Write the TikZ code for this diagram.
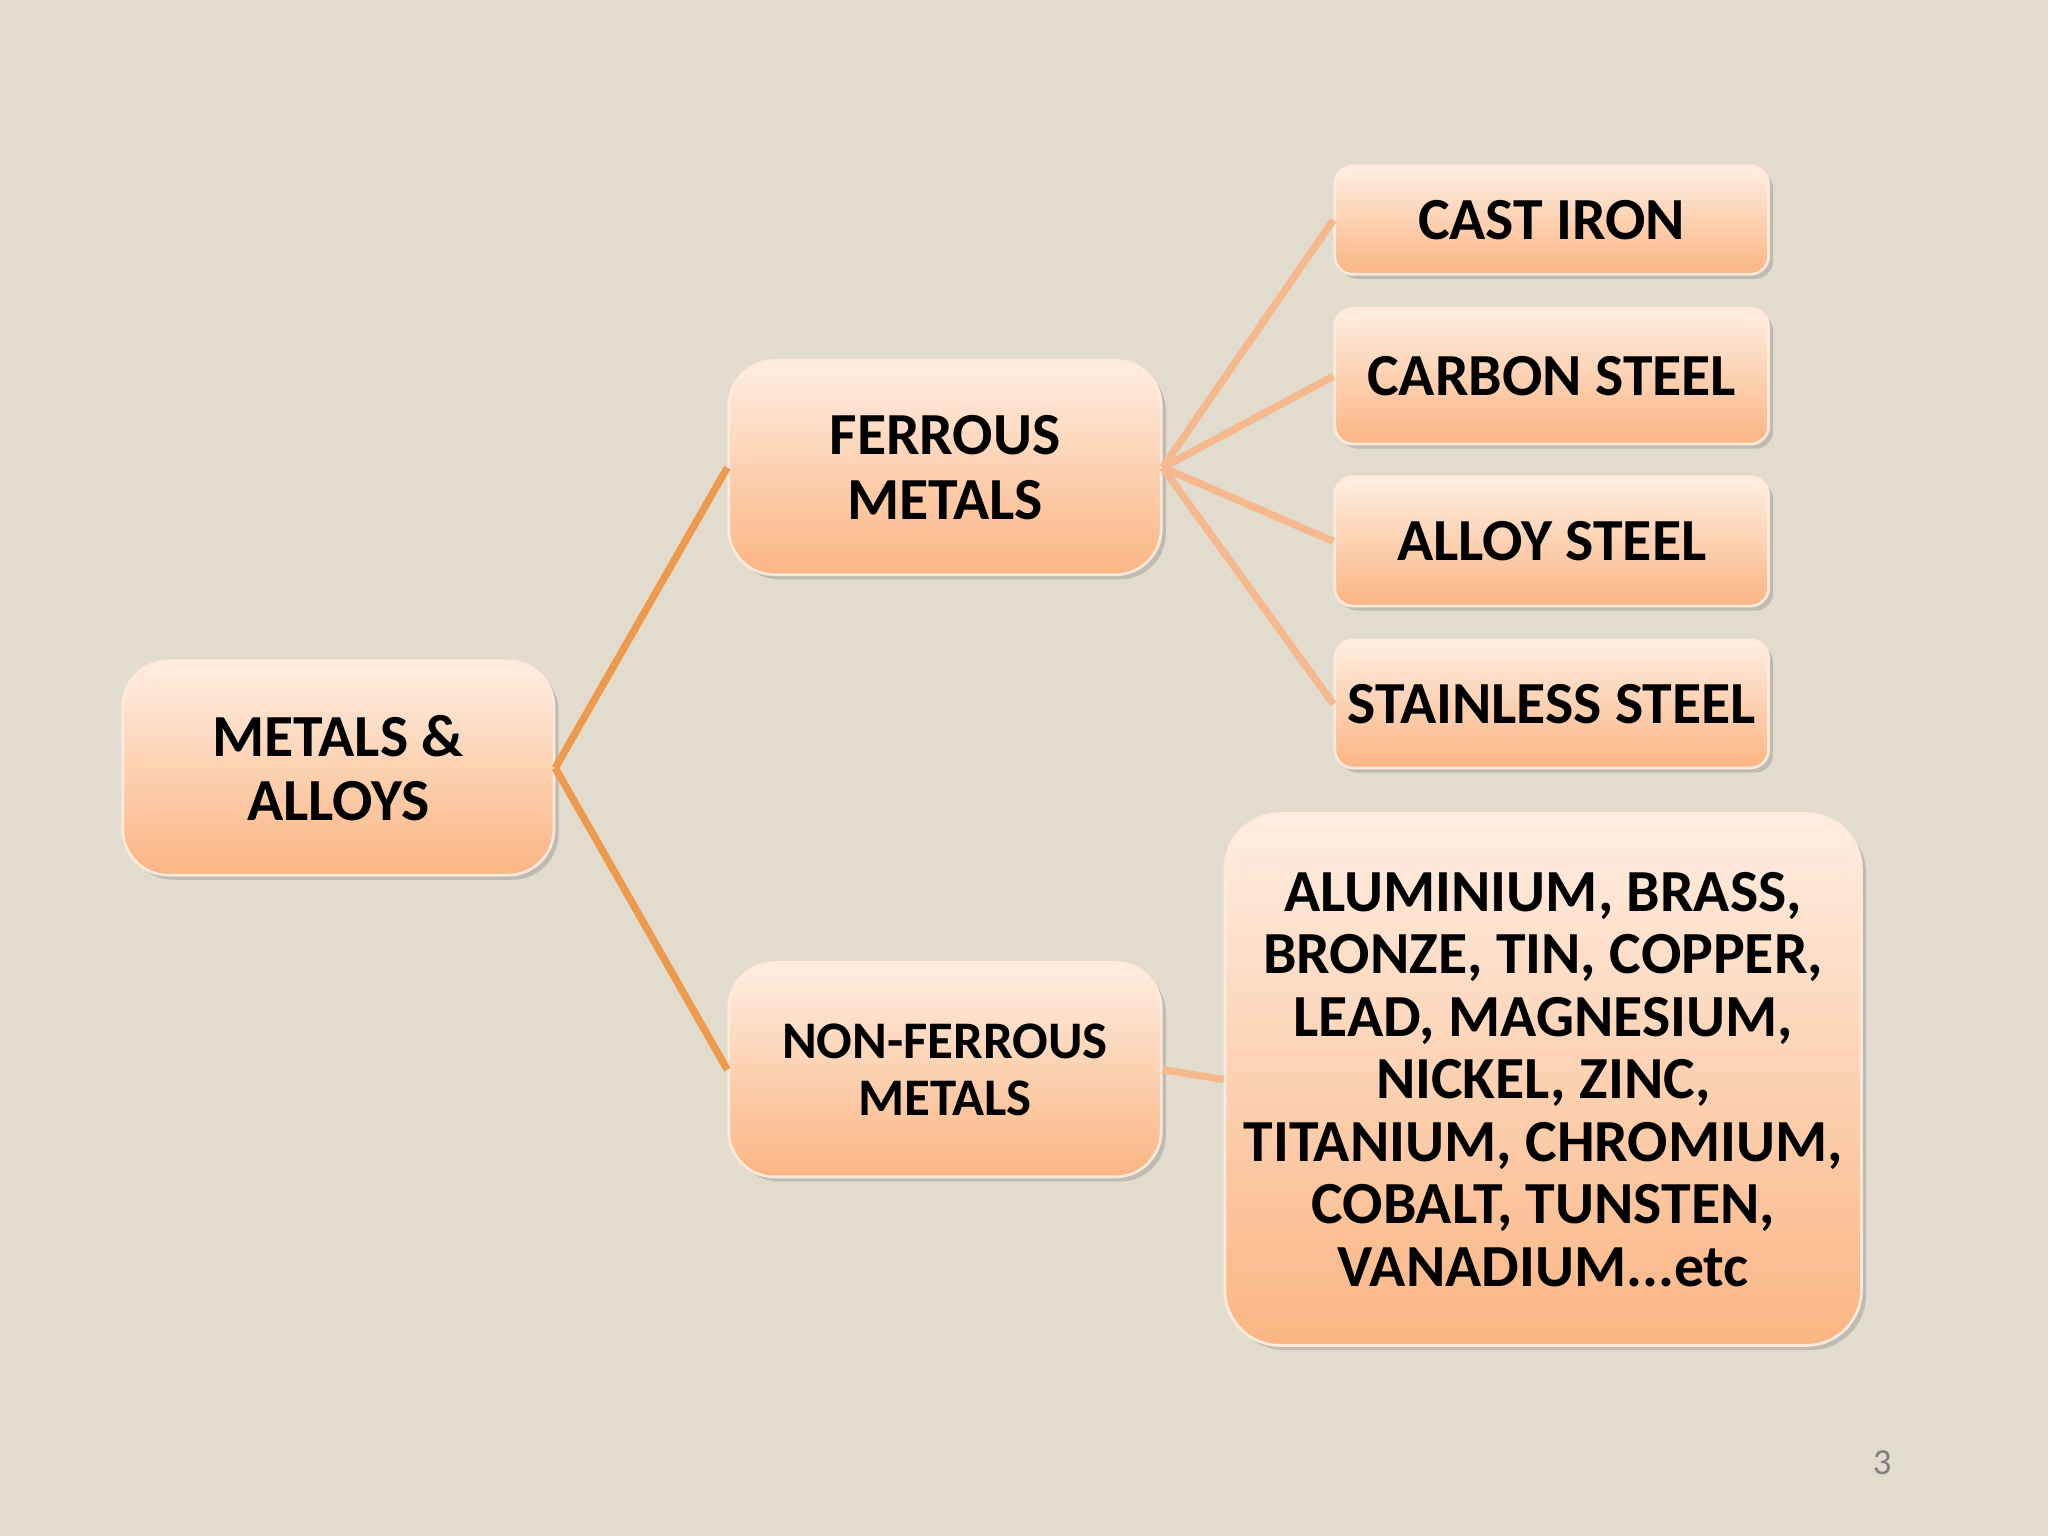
\documentclass[tikz,border=0pt]{standalone}
\usepackage{fontspec}
\setmainfont{Carlito}
\usetikzlibrary{shadows}
\definecolor{bg}{HTML}{E2DCCE}
\definecolor{topc}{HTML}{FEEEE2}
\definecolor{botc}{HTML}{FBB583}
\definecolor{edgeA}{HTML}{EE9A4C}
\definecolor{edgeB}{HTML}{F6B98E}
\tikzset{
  box/.style={rectangle, rounded corners=10pt, top color=topc, bottom color=botc,
    draw=white!70!botc, line width=0.6pt, drop shadow={shadow xshift=1pt,shadow yshift=-1pt,opacity=0.35},
    align=center, font=\bfseries, inner sep=0pt, text=black},
  linkA/.style={draw=edgeA, line width=1.6pt},
  linkB/.style={draw=edgeB, line width=1.6pt}
}
\begin{document}
\begin{tikzpicture}[x=0.01cm,y=-0.01cm]
\fill[bg] (0,0) rectangle (1568,1176);
\useasboundingbox (0,0) rectangle (1568,1176);
\node[box, minimum width=3.3cm, minimum height=1.64cm, font=\bfseries\fontsize{13}{14}\selectfont] (m) at (259,588) {METALS \&\\ALLOYS};
\node[box, minimum width=3.31cm, minimum height=1.64cm, font=\bfseries\fontsize{13}{14}\selectfont] (f) at (723.5,358) {FERROUS\\METALS};
\node[box, minimum width=3.31cm, minimum height=1.64cm, font=\bfseries\fontsize{11.5}{12.5}\selectfont] (n) at (723.5,819) {NON-FERROUS\\METALS};
\node[box, rounded corners=4pt, minimum width=3.32cm, minimum height=0.83cm, font=\bfseries\fontsize{13}{14}\selectfont] (c1) at (1188,168.5) {CAST IRON};
\node[box, rounded corners=4pt, minimum width=3.32cm, minimum height=1.04cm, font=\bfseries\fontsize{13}{14}\selectfont] (c2) at (1188,288) {CARBON STEEL};
\node[box, rounded corners=4pt, minimum width=3.32cm, minimum height=0.99cm, font=\bfseries\fontsize{13}{14}\selectfont] (c3) at (1188,414.5) {ALLOY STEEL};
\node[box, rounded corners=4pt, minimum width=3.32cm, minimum height=0.98cm, font=\bfseries\fontsize{13}{14}\selectfont] (c4) at (1188,539) {STAINLESS STEEL};
\node[box, rounded corners=12pt, minimum width=4.87cm, minimum height=4.07cm, font=\bfseries\fontsize{13}{13.6}\selectfont] (l) at (1181.5,826.5) {ALUMINIUM, BRASS,\\BRONZE, TIN, COPPER,\\LEAD, MAGNESIUM,\\NICKEL, ZINC,\\TITANIUM, CHROMIUM,\\COBALT, TUNSTEN,\\VANADIUM...etc};
\draw[linkA] (m.east) -- (f.west);
\draw[linkA] (m.east) -- (n.west);
\foreach \c in {c1,c2,c3,c4} \draw[linkB] (f.east) -- (\c.west);
\draw[linkB] (n.east) -- (l.west);
\node[text=gray, font=\fontsize{8}{9}\selectfont] (pg) at (1441,1120) {3};
\end{tikzpicture}
\end{document}
